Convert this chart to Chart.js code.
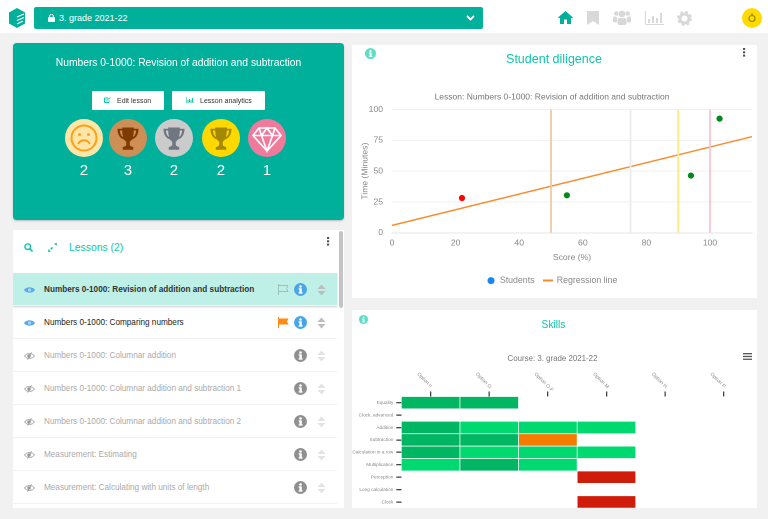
<!DOCTYPE html>
<html><head><meta charset="utf-8">
<script src="https://cdn.jsdelivr.net/npm/chart.js@4"></script>
<style>
*{box-sizing:border-box;margin:0;padding:0}
html,body{width:768px;height:519px;overflow:hidden;background:#f1f1f1;font-family:"Liberation Sans",Arial,sans-serif}
#page{position:absolute;left:0;top:0;width:768px;height:519px;filter:blur(.4px);overflow:hidden}
.abs,#page>*{position:absolute}
.top{left:0;top:0;width:768px;height:33px;background:#fff}
.sel{left:34px;top:7px;width:449px;height:22px;background:#00b09a;border-radius:2px;color:#fff;font-size:9px;line-height:23px;padding-left:25px}
.hero{left:13px;top:43px;width:331px;height:177px;background:#00b09a;border-radius:4px;box-shadow:0 1px 2px #bbb}
.hero h1{position:absolute;left:0;width:100%;top:13px;text-align:center;font-weight:400;font-size:10.3px;color:#fff;line-height:14px}
.btn{position:absolute;top:48px;height:19px;background:#fff;border-radius:1px;font-size:7px;line-height:20px;color:#333}
.badge{position:absolute;top:76px;width:38px;height:38px;border-radius:50%}
.cnt{position:absolute;top:119px;width:38px;text-align:center;color:#fff;font-size:15px;line-height:16px}
.card{background:#fff}
.h2{color:#10c5a8;text-align:center;font-weight:400}
.row{position:absolute;left:0;width:324px;height:33px;border-bottom:1px solid #f2f2f2;font-size:8.2px;line-height:33px;color:#aaa}
.row span{position:absolute;left:31px;top:0;white-space:nowrap}
.row svg{position:absolute}
canvas{position:absolute}
</style></head><body>
<div id="page">
<svg width="0" height="0" style="position:absolute"><defs>
<symbol id="info" viewBox="0 0 12 12"><circle cx="6" cy="6" r="6" fill="currentColor"/><rect x="5" y="5" width="2.2" height="4.6" fill="#fff"/><rect x="4.2" y="8.7" width="3.8" height="1" fill="#fff"/><rect x="4.2" y="5" width="2" height="1" fill="#fff"/><circle cx="6" cy="3.2" r="1.2" fill="#fff"/></symbol>
<symbol id="cup" viewBox="0 0 24 24"><path fill="currentColor" d="M7 3h10v1h4c0 5-2 8-5.300 9-.7 1-1.700 1.700-2.200 2v3c0 1 2 1 3 2v2H7.500v-2c1-1 3-1 3-2v-3c-.5-.3-1.500-1-2.200-2C5 12 3 9 3 4h4zM5 5.500c.2 2.500 1 4.500 2.800 5.600-.5-1.700-.8-3.600-.8-5.600zm14 0h-2c0 2-.3 3.900-.8 5.600 1.800-1.100 2.600-3.100 2.800-5.600z"/></symbol>
<symbol id="eye" viewBox="0 0 12 8"><path fill="currentColor" d="M0 4c2-4 10-4 12 0-2 4-10 4-12 0z"/><circle cx="6" cy="4" r="1.800" fill="#fff" opacity=".5"/></symbol>
<symbol id="eyeoff" viewBox="0 0 12 8"><path fill="none" stroke="currentColor" d="M.6 4c2-3.500 8.800-3.500 10.800 0-2 3.500-8.800 3.500-10.800 0z"/><circle cx="5.500" cy="4" r="2" fill="currentColor"/><path stroke="currentColor" d="M8 0L4 8"/></symbol>
<symbol id="sort" viewBox="0 0 10 12"><path fill="currentColor" d="M5 0l4.500 5h-9zM5 12L.5 7h9z"/></symbol>
</defs></svg>

<div class="top"></div>
<svg style="left:8px;top:8px" width="18" height="20" viewBox="0 0 18 20"><path fill="#00b09a" d="M9 0l8 4.500v11L9 20l-8-4.500v-11z"/><path stroke="#fff" stroke-width="1.300" d="M9 9l7-3M9 12.500l7-3M9 16l6-3"/></svg>
<div class="sel"><svg style="position:absolute;left:14px;top:7px" width="7" height="8" viewBox="0 0 7 8"><rect y="3" width="7" height="5" rx="1" fill="#fff"/><path d="M1.700 3.500V2a1.800 1.800 0 013.600 0v1.500" fill="none" stroke="#fff"/></svg><b style="font-weight:400">3. grade 2021-22</b><svg style="position:absolute;left:432px;top:8px" width="9" height="6" viewBox="0 0 9 6"><path d="M1 1l3.500 3.500L8 1" fill="none" stroke="#fff" stroke-width="1.800"/></svg></div>
<svg style="left:558px;top:11px" width="15" height="13" viewBox="0 0 15 13"><path fill="#00b09a" d="M7.500 0L15 6.500l-1 1-1-.9V13H9V8.500H6V13H2V6.600l-1 .9-1-1z"/></svg>
<svg style="left:587px;top:11px" width="12" height="14" viewBox="0 0 12 14"><path fill="#d8d8d8" d="M0 0h12v14L6 10l-6 4z"/></svg>
<svg style="left:613px;top:10px" width="18" height="15" viewBox="0 0 18 15"><g fill="#d8d8d8"><circle cx="9" cy="4" r="3.200"/><circle cx="3.300" cy="3.500" r="2.300"/><circle cx="14.700" cy="3.500" r="2.300"/><rect x="4.500" y="8" width="9" height="7" rx="2"/><rect x="0" y="6.500" width="4" height="6" rx="1.500"/><rect x="14" y="6.500" width="4" height="6" rx="1.500"/></g></svg>
<svg style="left:645px;top:11px" width="19" height="14" viewBox="0 0 19 14"><path stroke="#d8d8d8" fill="none" d="M.5 0v13.500H19"/><g fill="#d8d8d8"><rect x="3" y="8" width="2" height="4"/><rect x="7" y="5" width="2" height="7"/><rect x="11" y="7" width="2" height="5"/><rect x="15" y="2" width="2" height="10"/></g></svg>
<svg style="left:677px;top:11px" width="15" height="15" viewBox="0 0 15 15"><circle cx="7.500" cy="7.500" r="4.500" fill="none" stroke="#d8d8d8" stroke-width="3"/><circle cx="7.500" cy="7.500" r="6.300" fill="none" stroke="#d8d8d8" stroke-width="2.400" stroke-dasharray="2.500 2.450"/></svg>
<svg style="left:742px;top:8px" width="20" height="20" viewBox="0 0 20 20"><circle cx="10" cy="10" r="10" fill="#ffdb00"/><circle cx="10" cy="10.500" r="3" fill="none" stroke="#9a8500" stroke-width="1.200"/><path d="M10 5v3" stroke="#9a8500" stroke-width="1.200"/></svg>

<div class="hero"><h1>Numbers 0-1000: Revision of addition and subtraction</h1>
<div class="btn" style="left:79px;width:72px"><svg style="position:absolute;left:12px;top:6px" width="7" height="6" viewBox="0 0 7 6"><path fill="none" stroke="#10c5a8" d="M5 3.500v2H.5V1H4M2.500 3.500L6.500.5"/></svg><span style="position:absolute;left:25px">Edit lesson</span></div>
<div class="btn" style="left:159px;width:93px"><svg style="position:absolute;left:14px;top:6px" width="8" height="6" viewBox="0 0 8 6"><path fill="#10c5a8" d="M0 0h.6v5.400H8V6H0zM1.500 3h1v2h-1zM3 2h1v3H3zM4.500 3h1v2h-1zM6 1h1v4H6z"/></svg><span style="position:absolute;left:28px">Lesson analytics</span></div>
<div class="badge" style="left:52px;background:#fde6a8"><svg width="38" height="38" viewBox="0 0 38 38" style="position:absolute"><circle cx="19" cy="19" r="12.500" fill="none" stroke="#ff9f14" stroke-width="2"/><circle cx="14.500" cy="15.500" r="1.500" fill="#ff9f14"/><circle cx="23.500" cy="15.500" r="1.500" fill="#ff9f14"/><path d="M13 25c3-5 9-5 12 0" fill="none" stroke="#ff9f14" stroke-width="2"/></svg></div>
<div class="badge" style="left:96px;background:#cd8f56;color:#7f3a00"><svg width="28" height="28" style="position:absolute;left:5px;top:5px"><use href="#cup"/></svg></div>
<div class="badge" style="left:142px;background:#cbcbcb;color:#6f7780"><svg width="28" height="28" style="position:absolute;left:5px;top:5px"><use href="#cup"/></svg></div>
<div class="badge" style="left:189px;background:#ffd800;color:#a48900"><svg width="28" height="28" style="position:absolute;left:5px;top:5px"><use href="#cup"/></svg></div>
<div class="badge" style="left:235px;background:#ef7a9c"><svg width="38" height="38" viewBox="0 0 38 38" style="position:absolute"><path d="M11 9h16l6 7.500L19 32 5 16.500zM5 16.500h28M13.500 16.500L19 32l5.500-15.500M11 9l2.500 7.500L19 9l5.500 7.500L27 9" fill="none" stroke="#fff" stroke-width="1.700"/></svg></div>
<div class="cnt" style="left:52px">2</div><div class="cnt" style="left:96px">3</div><div class="cnt" style="left:142px">2</div><div class="cnt" style="left:189px">2</div><div class="cnt" style="left:235px">1</div>
</div>

<div class="card" id="lessons" style="left:13px;top:230px;width:331px;height:278px;overflow:hidden">
<svg style="position:absolute;left:11px;top:13px" width="9" height="9" viewBox="0 0 9 9"><circle cx="3.700" cy="3.700" r="2.800" fill="none" stroke="#10c5a8" stroke-width="1.400"/><path d="M5.800 5.800L8.500 8.500" stroke="#10c5a8" stroke-width="1.600"/></svg>
<svg style="position:absolute;left:35px;top:13px" width="9" height="9" viewBox="0 0 9 9"><path fill="#10c5a8" d="M0 9l3-.5-2.500-2.500zM9 0L6 .5l2.500 2.500zM2 5l2 2 1-3z"/></svg>
<div class="h2" style="position:absolute;left:56px;top:11px;font-size:10.4px;line-height:14px">Lessons (2)</div>
<svg style="position:absolute;left:314px;top:7px" width="3" height="9"><g fill="#555"><rect width="2.200" height="2"/><rect y="3.300" width="2.200" height="2"/><rect y="6.600" width="2.200" height="2"/></g></svg>
<div style="position:absolute;left:326px;top:1px;width:4px;height:77px;background:#c4c4c4;border-radius:2px"></div>
<div id="rows"></div>
</div>

<div class="card" style="left:352px;top:45px;width:405px;height:253px">
<svg style="position:absolute;left:13px;top:3px" width="11" height="11" color="#5fdcc6"><use href="#info"/></svg>
<div class="h2" style="position:absolute;left:-.5px;width:100%;top:7px;font-size:12.5px;line-height:15px">Student diligence</div>
<svg style="position:absolute;left:391px;top:3px" width="3" height="9"><g fill="#555"><rect width="2.200" height="2"/><rect y="3.300" width="2.200" height="2"/><rect y="6.600" width="2.200" height="2"/></g></svg>
<canvas id="diligence" style="left:0;top:45px;width:405px;height:208px"></canvas>
</div>

<div class="card" style="left:352px;top:310px;width:405px;height:198px;overflow:hidden">
<svg style="position:absolute;left:7px;top:5px" width="9" height="9" color="#5fdcc6"><use href="#info"/></svg>
<div class="h2" style="position:absolute;left:-1px;width:100%;top:8px;font-size:10.2px;line-height:14px;font-weight:400">Skills</div>
<svg style="position:absolute;left:391px;top:43px" width="9" height="7"><g fill="#555"><rect width="9" height="1.300"/><rect y="2.800" width="9" height="1.300"/><rect y="5.600" width="9" height="1.300"/></g></svg>
<canvas id="skills" style="left:0;top:36.800px;width:405px;height:167px"></canvas>
</div>
</div>

<script>
// Lesson list
const lessonNames=["Numbers 0-1000: Revision of addition and subtraction","Numbers 0-1000: Comparing numbers","Numbers 0-1000: Columnar addition","Numbers 0-1000: Columnar addition and subtraction 1","Numbers 0-1000: Columnar addition and subtraction 2","Measurement: Estimating","Measurement: Calculating with units of length"];

// Student diligence
const scoreThresholds=[50,75,90,100];
const thresholdColors=["#f0c9a6","#ececec","#fde88a","#f8c4d0"];
const studentScores=[22,55,94,103];
const studentMinutes=[28.2,30.4,46.4,92.6];
const studentColors=["#ff0000","#008a1e","#008a1e","#008a1e"];
const regressionScores=[0,113.2];
const regressionMinutes=[6,78];

// Skills
const skillNames=["Equality","Clock, advanced","Addition","Subtraction","Calculation in a row","Multiplication","Perception","Long calculation","Clock"];
const optionNames=["Option n","Option O","Option O-F","Option M","Option H","Option P"];
const levelsOptionN=[2,0,2,2,2,1,0,0,0];
const levelsOptionO=[2,0,1,2,1,2,0,0,0];
const levelsOptionOF=[0,0,1,3,1,1,0,0,0];
const levelsOptionM=[0,0,1,0,1,0,4,0,4];
const levelColors={1:"#00d970",2:"#00b662",3:"#f57c00",4:"#d01c0a"};

const rowsEl=document.getElementById('rows');
lessonNames.forEach((n,i)=>{
  const active=i<2;
  const el=document.createElement('div');el.className='row';
  el.style.top=(43+i*33)+'px';
  if(i==0){el.style.background='#bff0e8';el.style.boxShadow='0 1px 2px #ccc';el.style.color='#333';el.style.fontWeight='700';}
  if(i==1){el.style.color='#222';}
  el.innerHTML=`<svg style="left:11px;top:12.500px;color:${active?'#5aa9ea':'#999'}" width="11" height="8"><use href="#${active?'eye':'eyeoff'}"/></svg><span>${n}</span>`+
  (i==0?`<svg style="left:265px;top:11px" width="11" height="11" viewBox="0 0 11 11"><path fill="none" stroke="#9bbfba" d="M.5 0v11M.5 1.500h9.500l-1.500 3 1.500 3H.5"/></svg>`:'')+
  (i==1?`<svg style="left:265px;top:11px" width="11" height="11" viewBox="0 0 11 11"><path fill="#ff8a14" d="M0 0h1v11H0zM1 1.500h9.500l-1.500 3 1.500 3H1z"/></svg>`:'')+
  `<svg style="left:281px;top:10px;color:${active?'#48a5ea':'#8f8f8f'}" width="13" height="13"><use href="#info"/></svg>`+
  `<svg style="left:304px;top:11px;color:${active?'#bdbdbd':'#e3e3e3'}" width="9" height="12"><use href="#sort"/></svg>`;
  rowsEl.appendChild(el);
});

Chart.defaults.font.family='"Liberation Sans",Arial,sans-serif';
Chart.defaults.animation=false;
const toXY=(xs,ys)=>xs.map((x,i)=>({x,y:ys[i]}));
const lineMark=document.createElement('canvas');lineMark.width=10;lineMark.height=2;
{const c=lineMark.getContext('2d');c.fillStyle='#f98a2c';c.fillRect(0,0,10,2);}

new Chart(document.getElementById('diligence'),{
  type:'scatter',
  data:{datasets:[
    ...scoreThresholds.map((s,i)=>({label:'t'+s,data:[{x:s,y:0},{x:s,y:100}],showLine:true,borderColor:thresholdColors[i],borderWidth:1.8,pointRadius:0})),
    {label:'Students',data:toXY(studentScores,studentMinutes),backgroundColor:'#1a86f0',pointBackgroundColor:studentColors,pointBorderWidth:0,pointRadius:3.1},
    {label:'Regression line',data:toXY(regressionScores,regressionMinutes),showLine:true,borderColor:'#f98a2c',backgroundColor:'#f98a2c',borderWidth:1.4,pointRadius:0,pointStyle:'line'}
  ]},
  options:{responsive:false,maintainAspectRatio:false,devicePixelRatio:2,
    layout:{padding:{left:0,right:5,top:0,bottom:3}},
    plugins:{
      tooltip:{enabled:false},
      title:{display:true,text:'Lesson: Numbers 0-1000: Revision of addition and subtraction',color:'#777',font:{size:8.5,weight:'400'},padding:{top:2.3,bottom:7}},
      legend:{position:'bottom',labels:{usePointStyle:true,boxHeight:5,boxWidth:10,font:{size:8.8},color:'#888',padding:9,
        generateLabels:()=>[
          {text:'Students',fillStyle:'#1a86f0',strokeStyle:'#1a86f0',fontColor:'#888',pointStyle:'circle',lineWidth:0,datasetIndex:4},
          {text:'Regression line',fillStyle:'#f98a2c',strokeStyle:'#f98a2c',fontColor:'#888',pointStyle:lineMark,lineWidth:0,datasetIndex:5}
        ]}}
    },
    scales:{
      x:{type:'linear',min:0,max:113.2,grid:{display:false,drawTicks:false},border:{color:'#e4e4e4'},
        ticks:{stepSize:20,includeBounds:false,color:'#888',font:{size:8.6},maxRotation:0,padding:5},
        title:{display:true,text:'Score (%)',color:'#888',font:{size:8.6},padding:{top:0,bottom:4.2}},
        afterFit(s){s.height=34.4;}},
      y:{min:0,max:100,grid:{color:'#f1f1f1',drawTicks:false},border:{display:false},
        ticks:{stepSize:25,color:'#888',font:{size:8.6},padding:9},
        title:{display:true,text:'Time (Minutes)',color:'#888',font:{size:8.6},padding:{top:8,bottom:0}},
        afterFit(s){s.width=40;}}
    }}
});

const levelRows=[levelsOptionN,levelsOptionO,levelsOptionOF,levelsOptionM];
new Chart(document.getElementById('skills'),{
  type:'bar',
  data:{labels:skillNames,datasets:levelRows.map((lv,c)=>({
    label:optionNames[c],
    data:lv.map(v=>v?[c,c+1]:null),
    backgroundColor:lv.map(v=>levelColors[v]||'transparent'),
    borderColor:'#ffffff',borderWidth:0.7,borderSkipped:false,
    barPercentage:1,categoryPercentage:1,grouped:false
  }))},
  options:{indexAxis:'y',responsive:false,maintainAspectRatio:false,devicePixelRatio:2,
    layout:{padding:{left:0,right:4,top:0,bottom:0}},
    plugins:{legend:{display:false},tooltip:{enabled:false},
      title:{display:true,text:'Course: 3. grade 2021-22',color:'#777',font:{size:7.9,weight:'400'},padding:{top:7,bottom:0}}},
    scales:{
      x:{type:'linear',position:'top',min:0,max:6,border:{display:false},
        grid:{display:true,drawOnChartArea:false,drawTicks:true,tickLength:5,color:'#444',lineWidth:1.3},
        afterBuildTicks(s){s.ticks=optionNames.map((_,i)=>({value:i+.5}));},
        afterFit(s){s.height=33;},
        ticks:{autoSkip:false,minRotation:-45,maxRotation:-45,padding:16,labelOffset:-17,color:'#888',font:{size:5},
          callback(v){return optionNames[Math.floor(v)];}}},
      y:{type:'category',grid:{display:true,offset:false,drawOnChartArea:false,drawTicks:true,tickLength:5,color:'#444',lineWidth:1.3},border:{display:false},
        ticks:{color:'#888',font:{size:4.7},padding:3,autoSkip:false},
        afterFit(s){s.width=49.300;}}
    }}
});
</script>
</body></html>
